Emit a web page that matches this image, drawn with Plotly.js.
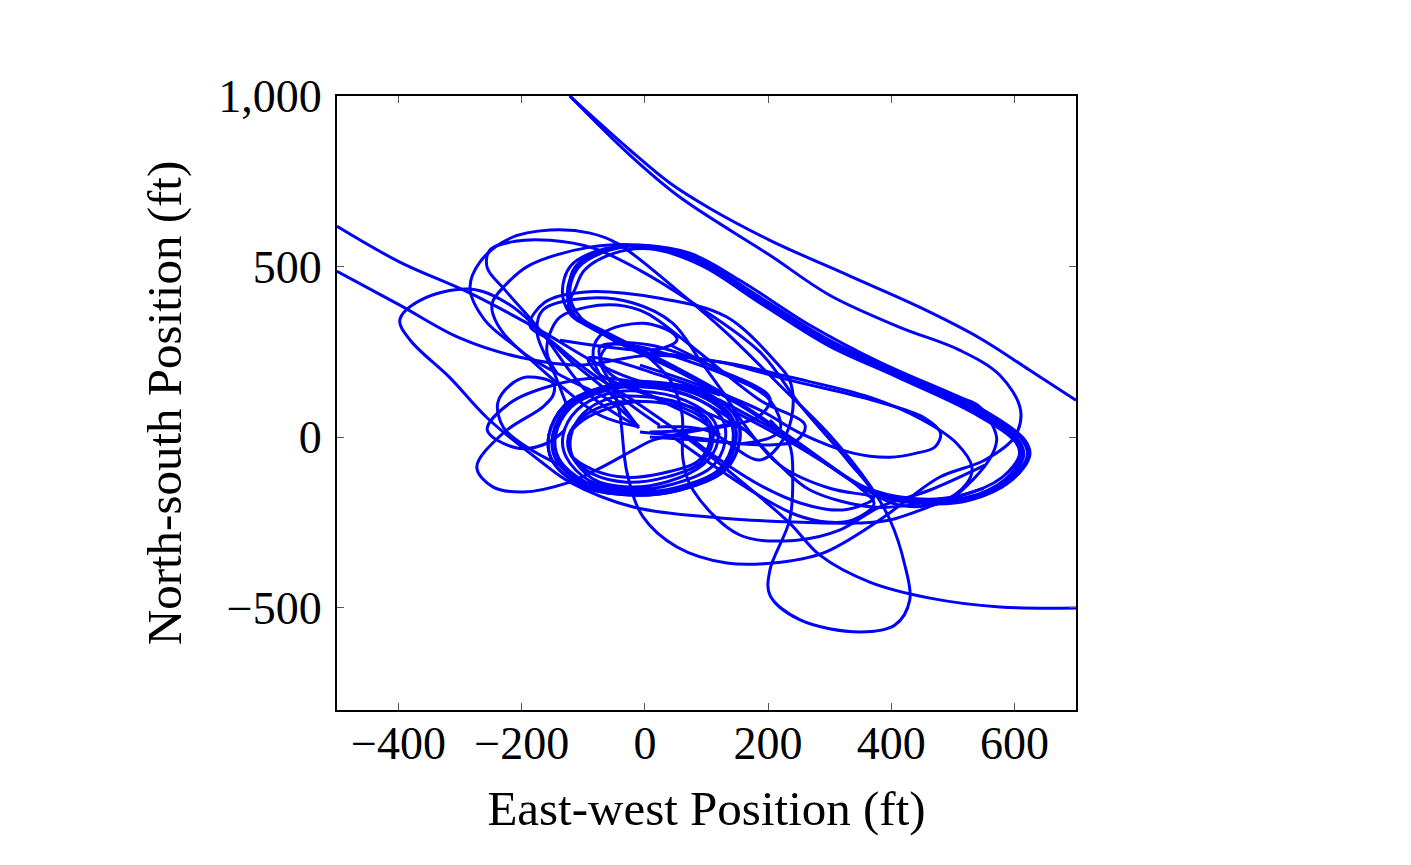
<!DOCTYPE html>
<html><head><meta charset="utf-8">
<script src="https://cdn.plot.ly/plotly-3.0.1.min.js"></script>
<style>html,body{margin:0;padding:0;background:#fff}</style></head>
<body><div id="chart" style="width:1411px;height:865px"></div>
<script>
const xTicks=[-400,-200,0,200,400,600];
const yTicks=[-500,0,500,1000];
const outerX=[-122,-24,41,105,203,333,446,544,625,700];
const outerY=[1000,841,744,671,577,472,381,290,196,108];
const innerX=[-122,-24,57,203,300,414,511,576,610,600,552,479,425,381,289,208,133,52,-3,-29,-41,-54,-73,-57,8,122,203,187,122,8];
const innerY=[1000,826,703,533,416,322,255,182,79,0,-67,-117,-185,-243,-340,-369,-369,-322,-234,-105,70,152,226,270,270,196,114,64,29,15];
const left1X=[-500,-398,-284,-170,-73,-8,89,146,154,130,57,-24,-105,-151,-156,-130,-73,-8];
const left1Y=[618,513,422,313,211,164,138,64,-9,-97,-155,-170,-141,-67,6,94,144,164];
const lap1X=[-8,89,146,154,130,57,-24,-105,-151,-156,-130,-73];
const lap1Y=[164,138,64,-9,-97,-155,-170,-141,-67,6,94,144];
const lap2X=[-8,84,140,148,125,53,-25,-100,-145,-150,-125,-68];
const lap2Y=[160,132,62,-10,-96,-152,-166,-137,-64,6,90,140];
const lap3X=[-8,80,135,143,120,50,-25,-95,-140,-145,-120,-65];
const lap3Y=[155,128,60,-12,-95,-148,-160,-133,-62,6,88,136];
const lap4X=[-10,75,125,130,108,45,-25,-90,-128,-133,-110,-60];
const lap4Y=[148,120,55,-15,-88,-138,-154,-128,-58,5,80,128];
const lap5X=[-10,65,112,118,95,38,-28,-85,-118,-120,-100,-55];
const lap5Y=[135,108,48,-15,-80,-130,-146,-122,-55,5,70,115];
const lap6X=[-12,60,105,110,90,33,-30,-85,-120,-124,-100,-52];
const lap6Y=[120,98,45,-15,-76,-118,-132,-108,-54,4,60,100];
const lap7X=[-12,55,100,105,85,30,-30,-85,-120,-124,-100,-50,-12];
const lap7Y=[105,90,42,-15,-72,-105,-118,-95,-52,3,50,90,105];
const main1X=[-122,-109,-57,8,89,187,300,414,544,617,625,596,527,446,365,252,154,57,-57,-114];
const main1Y=[416,495,548,560,519,410,284,190,85,-9,-53,-126,-185,-193,-155,-23,94,190,290,357];
const main2X=[-126,-111,-59,6,87,185,298,412,542,613,621,593,525,444,363,251,153,56,-59,-117];
const main2Y=[421,498,550,559,517,406,281,187,82,-10,-54,-125,-183,-190,-153,-21,96,193,294,361];
const main3X=[-134,-120,-65,4,84,182,294,408,538,608,615,588,520,440,360,249,151,54,-62,-124];
const main3Y=[427,503,552,557,513,400,275,182,76,-13,-55,-123,-178,-186,-150,-17,100,198,300,368];
const main4X=[-112,-98,-52,8,90,188,298,410,534,602,608,580,510,435,355,246,149,51,-68,-104];
const main4Y=[440,490,538,552,505,392,268,176,70,-15,-52,-118,-172,-180,-145,-12,105,204,312,350];
const main5X=[-124,-113,-60,5,86,184,295,408,536,605,612,585,517,438,358,248,150,53,-64,-122];
const main5Y=[423,500,551,558,515,403,278,184,78,-12,-54,-124,-181,-188,-150,-18,99,196,298,364];
const bigX=[203,235,240,235,203,203,252,349,406,430,422,398,365,300,219,133,52,-45,-89,-154,-219,-268,-284,-260,-203,-138,-73,-10];
const bigY=[50,-23,-126,-243,-390,-463,-536,-571,-551,-478,-375,-243,-141,6,152,305,431,568,598,607,583,513,437,343,255,152,64,30];
const loopDX=[-10,-89,-170,-227,-256,-252,-211,-154,-84,-8,78,187,252,330,372,352,312,252,192,122,57];
const loopDY=[30,123,313,431,496,548,574,577,554,489,393,249,94,-70,-176,-200,-214,-193,-146,-67,21];
const loopEX=[-10,-60,-122,-203,-243,-248,-227,-187,-89,-8,73,154,268,381,511,544,571,565,532,490,430,370,250,120];
const loopEY=[30,110,167,255,343,393,445,504,557,563,539,460,328,220,117,88,0,-47,-126,-185,-192,-165,-20,110];
const hairpinX=[140,260,350,372,338,295,247,198,122,41];
const hairpinY=[80,-40,-150,-195,-243,-249,-229,-185,-97,6];
const left2X=[-500,-398,-300,-203,-106,8,133,235,365,451,506,531,523,479,414,365];
const left2Y=[486,387,290,234,211,240,217,176,117,50,-18,-88,-135,-193,-200,-160];
const tipX=[8,122,235,370,454,480,471,441,398,338,252,187,89,-8];
const tipY=[249,220,167,108,56,12,-29,-47,-59,-47,12,79,152,211];
const humpX=[-10,-45,-122,-219,-284,-365,-398,-381,-316,-256,-166,-122,-19,122,240,344,398,479,550];
const humpY=[26,108,226,387,434,401,343,284,173,56,-76,-132,-205,-237,-249,-252,-243,-193,-150];
const trackX=[700,576,463,365,284,235,154,73,-8,-89,-154,-187,-162,-101,24,133,214,235,240,224,187,100,20];
const trackY=[-501,-498,-472,-425,-346,-252,-126,-9,94,190,284,328,396,425,407,352,217,167,79,-9,-67,20,30];
const loop2X=[-125,-130,-146,-175,-166,-94,-19,45,89,130,162,219,300,360,372];
const loop2Y=[85,108,182,305,372,407,393,334,226,123,35,-82,-150,-170,-176];
const loop3X=[-143,-159,-154,-138,-94,-45,3,73,187,260,247,203,89,8];
const loop3Y=[188,246,305,352,381,387,363,270,108,35,-9,-23,-9,0];
const smallLX=[-138,-192,-230,-239,-219,-192,-149,-149,-166,-230,-273,-247,-198,-127,-73,-19,13,89,146];
const smallLY=[-82,-29,29,100,152,176,158,123,88,12,-88,-146,-161,-135,-91,-38,-9,21,41];
const small2X=[-130,-159,-208,-256,-219,-149,-73,8,89,162,219,268,370,446];
const small2Y=[21,-18,-32,21,100,152,173,152,108,21,-82,-155,-205,-195];
const smallSX=[-138,-8,29,52,45,-3,-68,-84,-73,-32,24];
const smallSY=[284,255,261,284,305,334,305,255,182,108,35];
const tangle1X=[122,24,-57,-92,-78,-8,89,162];
const tangle1Y=[123,182,226,231,190,132,79,21];
const tangle2X=[187,89,-24,-73,-62,8,89,122];
const tangle2Y=[138,211,270,264,196,123,50,6];
const tangle3X=[-8,89,162,219,203,122,41];
const tangle3Y=[15,-3,-18,20,108,195,270];
const arcX=[552,463,381,316,247,154,78,62,60,41,-8];
const arcY=[-82,-155,-205,-273,-302,-287,-155,-67,70,167,255];

const centerX=[].concat(lap1X,lap2X,lap3X,lap4X,lap5X,lap6X,lap7X);
const centerY=[].concat(lap1Y,lap2Y,lap3Y,lap4Y,lap5Y,lap6Y,lap7Y);
const mainX=[].concat(main1X,main2X,main5X,main3X,main4X,main1X[0]);
const mainY=[].concat(main1Y,main2Y,main5Y,main3Y,main4Y,main1Y[0]);
const paths=[[outerX,outerY],[innerX,innerY],[left1X,left1Y],[centerX,centerY],[mainX,mainY],[bigX,bigY],
[loopDX,loopDY],[loopEX,loopEY],[hairpinX,hairpinY],[left2X,left2Y],[tipX,tipY],[humpX,humpY],[trackX,trackY],[loop2X,loop2Y],
[loop3X,loop3Y],[smallLX,smallLY],[small2X,small2Y],[smallSX,smallSY],[tangle1X,tangle1Y],[tangle2X,tangle2Y],
[tangle3X,tangle3Y],[arcX,arcY]];
const traces=paths.map(p=>({x:p[0],y:p[1],type:'scatter',mode:'lines',hoverinfo:'skip',
  line:{color:'#0000ff',width:3,shape:'spline',smoothing:1}}));
const font='"Liberation Serif", serif';
const axis={showgrid:false,zeroline:false,showline:true,linecolor:'#000',linewidth:2,mirror:'allticks',
  ticks:'inside',ticklen:7,tickwidth:1,tickcolor:'#555',tickfont:{family:font,size:46,color:'#000'},tickformat:','};
Plotly.newPlot('chart',traces,{
  width:1411,height:865,showlegend:false,separators:'.,',
  paper_bgcolor:'#fff',plot_bgcolor:'#fff',
  margin:{l:337,r:335,t:96,b:155,pad:0},
  xaxis:Object.assign({},axis,{range:[-500,700],tickmode:'array',tickvals:xTicks,ticklabelstandoff:-8,
    title:{text:'East-west Position (ft)',font:{family:font,size:49,color:'#000'},standoff:22}}),
  yaxis:Object.assign({},axis,{range:[-800,1000],tickmode:'array',tickvals:yTicks,ticklabelstandoff:4,
    title:{text:'North-south Position (ft)',font:{family:font,size:49,color:'#000'},standoff:21}})
},{displayModeBar:false,staticPlot:true});
</script></body></html>
